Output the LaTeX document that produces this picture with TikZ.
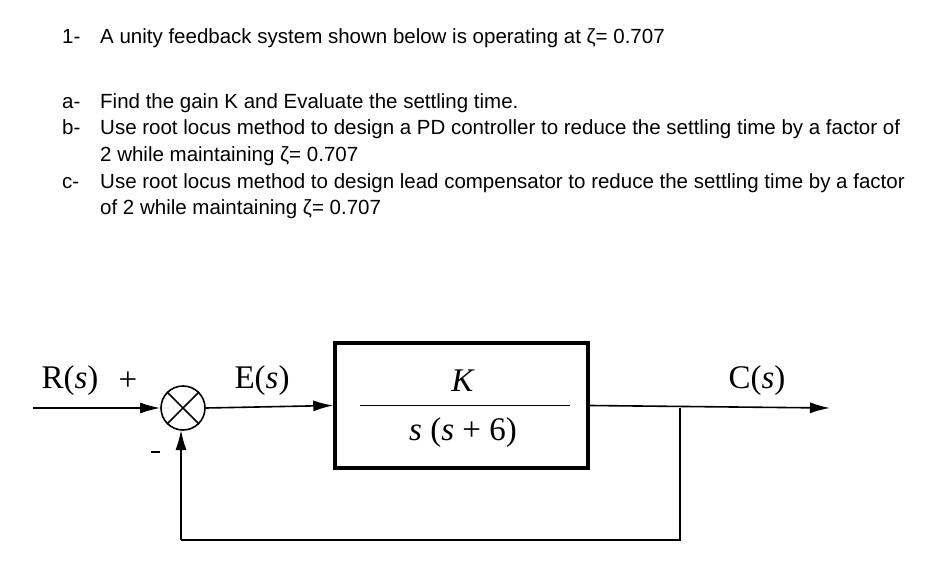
\documentclass[tikz,border=0pt]{standalone}
\usepackage{fontspec}
\setmainfont{Liberation Sans}
\newfontfamily\tms{Liberation Serif}
\usetikzlibrary{arrows.meta}
\begin{document}
\begin{tikzpicture}[x=1pt,y=-1pt,
  txt/.style={anchor=base west,inner sep=0pt,font=\fontsize{20.5}{22}\selectfont},
  dtx/.style={inner sep=0pt,font=\tms\fontsize{33}{35}\selectfont},
  sig/.style={line width=1.6pt,-{Latex[length=20pt,width=11pt]}},
  ln/.style={line width=1.6pt}]
\useasboundingbox (0,0) rectangle (936,572);
\node[txt] (n1) at (62,44) {1-};
\node[txt] (t1) at (100,44) {A unity feedback system shown below is operating at ζ= 0.707};
\node[txt] (na) at (62,109) {a-};
\node[txt] (ta) at (100,109) {Find the gain K and Evaluate the settling time.};
\node[txt] (nb) at (62,135) {b-};
\node[txt] (tb) at (100,135) {Use root locus method to design a PD controller to reduce the settling time by a factor of};
\node[txt] (tb2) at (100,161) {2 while maintaining ζ= 0.707};
\node[txt] (nc) at (62,189) {c-};
\node[txt] (tc) at (100,189) {Use root locus method to design lead compensator to reduce the settling time by a factor};
\node[txt] (tc2) at (100,214) {of 2 while maintaining ζ= 0.707};
% diagram
\node[draw,line width=1.6pt,circle,minimum size=44pt,inner sep=0pt] (sum) at (183,408) {};
\draw[line width=1.6pt] (sum.north west)--(sum.south east) (sum.north east)--(sum.south west);
\node[draw,line width=3.5pt,minimum width=253pt,minimum height=125pt,inner sep=0pt] (G) at (461.5,405.5) {};
\coordinate (in) at (33,408);
\coordinate (out) at (830,408);
\coordinate (br) at (680,408);
\coordinate (fb1) at (680,540);
\coordinate (fb2) at (181,540);
\draw[sig] (in) -- (sum.west);
\draw[sig] (sum.east) -- (G.west);
\draw[sig] (G.east) -- (out);
\draw[ln] (br) -- (fb1) -- (fb2);
\draw[sig] (fb2) -- (181,430);
\node[dtx] (R) at (70,381) {R(\textit{s})};
\node[dtx] (plus) at (128,381) {+};
\node[dtx] (minus) at (155,452) {\rule{9pt}{1.6pt}};
\node[dtx] (E) at (262,381) {E(\textit{s})};
\node[dtx] (C) at (757,381) {C(\textit{s})};
\node[dtx] (K) at (463,381) {\textit{K}};
\draw[line width=0.8pt] (360,405) -- (570,405);
\node[dtx] (den) at (463,433) {\textit{s} (\textit{s} + 6)};
\end{tikzpicture}
\end{document}
